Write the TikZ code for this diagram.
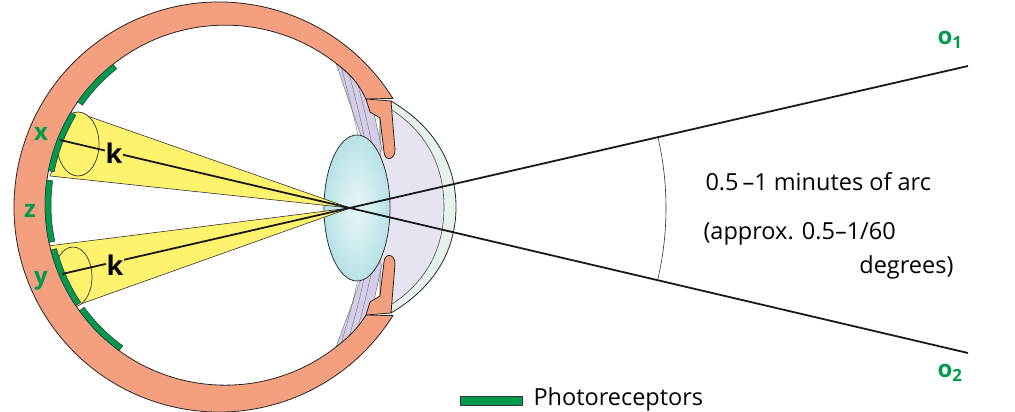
\documentclass[tikz,border=0pt]{standalone}
\usepackage{fontspec}
\setmainfont{Open Sans}
\usetikzlibrary{shapes.geometric}
\begin{document}
\begin{tikzpicture}[x=1pt,y=-1pt,
  outl/.style={draw=black!85,line width=0.8pt},
  lbl/.style={font=\fontsize{24}{26}\selectfont\bfseries,text=grn,inner sep=1pt},
  klbl/.style={font=\fontsize{27}{28}\selectfont\bfseries,fill=yel,inner sep=0.5pt},
  txt/.style={font=\fontsize{23.5}{26}\selectfont},
  ray/.style={draw=black!90,line width=1.8pt},
  pr/.style={draw=black!80,fill=grn,line width=0.5pt}]
\definecolor{scl}{HTML}{F4A07E}
\definecolor{grn}{HTML}{009A4E}
\definecolor{yel}{HTML}{FFF36E}
\definecolor{lensc}{HTML}{B7E2E6}
\definecolor{aq}{HTML}{E7E3F1}
\definecolor{corn}{HTML}{E5F3EA}
\definecolor{cil}{HTML}{D3CDE8}
\useasboundingbox (0,0) rectangle (1015,412);
% cornea
\fill[corn,outl] (391,101) .. controls (440,130) and (456,170) .. (456,207) .. controls (456,244) and (440,284) .. (391,313) -- cycle;
\fill[aq,draw=black!70,line width=0.6pt] (392,110) .. controls (430,135) and (444,170) .. (444,207) .. controls (444,244) and (430,279) .. (392,304) -- (380,304) -- (380,110) -- cycle;
% ciliary body
\fill[cil,draw=black!60,line width=0.4pt] (336,63) -- (370,95) -- (382,150) -- (366,150) -- (352,110) -- cycle;
\fill[cil,draw=black!60,line width=0.4pt] (336,347) -- (370,319) -- (382,264) -- (366,264) -- (352,304) -- cycle;
\foreach \a in {0,6,12}{
 \draw[black!55,line width=0.4pt] (341+\a,66) .. controls (350+\a,100) and (355+\a,120) .. (360+\a,145);
 \draw[black!55,line width=0.4pt] (341+\a,344) .. controls (350+\a,314) and (355+\a,294) .. (360+\a,269);}
% lens
\node[ellipse,draw=black!80,line width=0.8pt,inner color=lensc!30,outer color=lensc,minimum width=66,minimum height=146] (lens) at (357,208) {};
% yellow cones
\coordinate (N) at (350,208);
\fill[yel,draw=black!80,line width=0.6pt] (N) -- (76,112) -- (50,176) -- cycle;
\fill[yel,draw=black!80,line width=0.6pt] (N) -- (48,246) -- (75,306) -- cycle;
\draw[black!80,line width=0.7pt,fill=yel] (78,144) ellipse [x radius=21,y radius=32];
\draw[black!80,line width=0.7pt,fill=yel] (73,277) ellipse [x radius=19,y radius=30];
% sclera
\fill[scl,outl] (219,207) ++(-32:205) arc[start angle=-32,end angle=-328,radius=205]
  -- (366,315) .. controls (358,328) and (348,338) .. (336,347)
  arc[start angle=52,end angle=308,radius=180] .. controls (348,72) and (358,82) .. (366,99) -- cycle;
% iris
\fill[scl,outl] (366,99) -- (391,101) -- (395,150) .. controls (395,160) and (385,162) .. (384,152) -- (380,118) -- (370,112) -- cycle;
\fill[scl,outl] (366,315) -- (391,313) -- (395,264) .. controls (395,254) and (385,252) .. (384,262) -- (380,296) -- (370,302) -- cycle;
% photoreceptors
\foreach \s/\e in {128.5/145,149/169,172/192,194.5/214,216/234}{
  \fill[pr] (225,205) ++(-\s:180) arc[start angle=-\s,end angle=-\e,radius=180] -- ++(-\e:-6) arc[start angle=-\e,end angle=-\s,radius=174] -- cycle;}
% rays
\coordinate (O1) at (968,66);
\coordinate (O2) at (968,353);
\coordinate (R1) at (60,140);
\coordinate (R2) at (62,274);
\draw[ray] (O1) -- (R2);
\draw[ray] (O2) -- (R1);
\node[klbl] (k1) at (114,153) {k};
\node[klbl] (k2) at (115,265) {k};
% angle arc
\draw[black!80,line width=0.6pt] (N) ++(-13.1:316) arc[start angle=-13.1,end angle=13.1,radius=316];
% labels
\node[lbl] (lx) at (41,134) {x};
\node[lbl] (lz) at (30,211) {z};
\node[lbl] (ly) at (41,281) {y};
\node[lbl] (o1) at (950,40) {o\textsubscript{1}};
\node[lbl] (o2) at (950,373) {o\textsubscript{2}};
\node[txt,anchor=west] (t1) at (702,182) {0.5\,–1 minutes of arc};
\node[txt,anchor=west] (t2) at (700,234) {(approx. 0.5–1/60};
\node[txt,anchor=east] (t3) at (957,267) {degrees)};
\draw[pr,line width=0.6pt] (460,396) rectangle (522,405);
\node[txt,anchor=west] (leg) at (530,399) {Photoreceptors};
\end{tikzpicture}
\end{document}
